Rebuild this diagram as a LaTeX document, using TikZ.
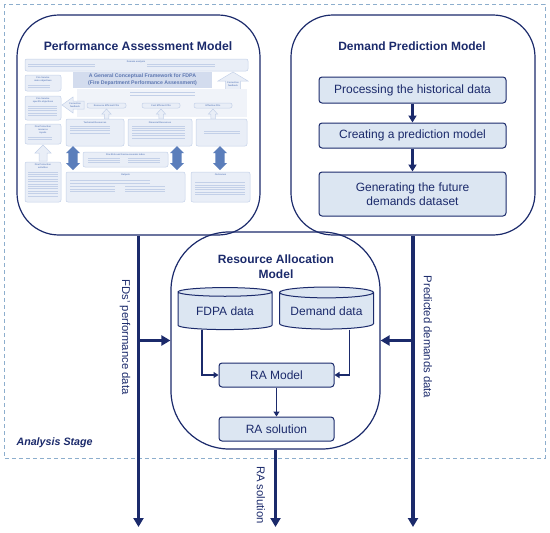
\documentclass[tikz,border=0pt]{standalone}
\usepackage{fontspec}
\setmainfont{Liberation Sans}
\usetikzlibrary{positioning, shapes.geometric, arrows.meta}

\definecolor{navy}{HTML}{1B2A6B}
\definecolor{boxfill}{HTML}{DCE6F2}
\definecolor{stageline}{HTML}{8DAECD}
\definecolor{paline}{HTML}{C3D0E8}
\definecolor{pafill}{HTML}{E9EEF7}
\definecolor{patext}{HTML}{6E8AC2}
\definecolor{pabanner}{HTML}{D3DCEE}
\definecolor{pablue}{HTML}{5B7EBB}

\tikzset{
	model/.style={draw=navy, line width=1.2pt, rounded corners=42pt, inner sep=0pt},
	modeltitle/.style={text=navy, align=center},
	stepbox/.style={draw=navy, fill=boxfill, line width=1pt, rounded corners=3pt,
		text=navy, align=center, inner sep=0pt, font=\fontsize{12}{14.5}\selectfont},
	datastore/.style={cylinder, shape border rotate=90, aspect=0.15, draw=navy, line width=1pt,
		fill=boxfill, text=navy, inner sep=0pt, font=\fontsize{12}{14.5}\selectfont},
	flow/.style={navy, line width=3.5pt, -{Triangle[length=9pt,width=10pt]}},
	stepflow/.style={navy, line width=2.5pt, -{Triangle[length=7pt,width=8pt]}},
	link/.style={navy, line width=1.5pt, -{Triangle[length=5pt,width=6pt]}},
	sidelabel/.style={text=navy, font=\fontsize{11.3}{13}\selectfont},
	pabox/.style={draw=paline, fill=pafill, rounded corners=2pt, line width=0.5pt},
	patxt/.style={text=patext, align=center, inner sep=0pt, font=\fontsize{2.3}{2.8}\selectfont\bfseries},
	pics/hollowarrow/.style args={#1/#2}{code={
		\draw[paline, fill=pafill, line width=0.5pt] ({-#1/4},{#2/2}) -- ({-#1/4},0) -- ({-#1/2},0)
			-- (0,{-#2/2}) -- ({#1/2},0) -- ({#1/4},0) -- ({#1/4},{#2/2}) -- cycle;}},
	pics/bluearrow/.style args={#1/#2}{code={
		\fill[pablue] (0,{-#2/2}) -- ({#1/2},{-#2/2+#1/2}) -- ({#1/3},{-#2/2+#1/2}) -- ({#1/3},{#2/2-#1/2})
			-- ({#1/2},{#2/2-#1/2}) -- (0,{#2/2}) -- ({-#1/2},{#2/2-#1/2}) -- ({-#1/3},{#2/2-#1/2})
			-- ({-#1/3},{-#2/2+#1/2}) -- ({-#1/2},{-#2/2+#1/2}) -- cycle;}}
}

% faint lines standing for the unreadable small print
\newcommand{\palines}[4]{%
	\foreach \k in {1,...,#4}
		\draw[paline, line width=0.6pt] (#1,{#3+2.4*\k}) -- (#2,{#3+2.4*\k});}

\begin{document}
\begin{tikzpicture}[x=1pt, y=-1pt]
	\useasboundingbox (0,0) rectangle (550,533);

	% analysis stage frame
	\draw[stageline, line width=1pt, dash pattern=on 4pt off 3pt] (4,4) rectangle (545,458);
	\node[text=navy, anchor=west, font=\fontsize{10.7}{12}\selectfont\bfseries\itshape] (stage) at (13,443) {Analysis Stage};

	% the three models
	\node[model, minimum width=243pt, minimum height=220pt] (pam) at (138.5,125) {};
	\node[model, minimum width=244pt, minimum height=220pt] (dpm) at (413,125) {};
	\node[model, rounded corners=58pt, minimum width=209pt, minimum height=217pt] (ram) at (275.5,340.5) {};

	\node[modeltitle, font=\fontsize{12.2}{15}\selectfont\bfseries] (pamtitle) at (138,46) {Performance Assessment Model};
	\node[modeltitle, font=\fontsize{12}{14}\selectfont\bfseries] (dpmtitle) at (412,46) {Demand Prediction Model};
	\node[modeltitle, font=\fontsize{12}{15}\selectfont\bfseries] (ramtitle) at (276,267) {Resource Allocation\\Model};

	% framework thumbnail inside the assessment model
	\draw[pabox] (25,59) rectangle (248,71);
	\node[patxt] (pa1) at (136,61.5) {Domain analysis};
	\palines{28}{95}{61.5}{2}
	\palines{147}{215}{61.5}{2}

	\draw[pabox] (25,75) rectangle (61,91);
	\node[patxt] (pa2) at (43,79.5) {Fire Service\\main objectives};
	\palines{28}{50}{82.5}{2}
	\draw[pabox] (25,96) rectangle (61,120);
	\node[patxt] (pa3) at (43,100.5) {Fire Service\\specific objectives};
	\palines{28}{57}{103.5}{5}
	\draw[pabox] (25,124) rectangle (61,144);
	\node[patxt] (pa4) at (43,130) {Fire Protection\\resource\\inputs};
	\palines{28}{52}{134.5}{2}
	\pic at (43,153) {hollowarrow=16/16};
	\draw[pabox] (25,162) rectangle (61,202);
	\node[patxt] (pa5) at (43,166.5) {Fire Protection\\activities};
	\palines{28}{58}{169.5}{11}

	\fill[pabanner] (73,72) rectangle (212,88);
	\node[text=patext!80!navy, align=center, font=\fontsize{5.2}{6.8}\selectfont\bfseries] (pabanner) at (142.5,80)
		{A General Conceptual Framework for FDPA\\(Fire Department Performance Assessment)};
	\pic at (233,81) {hollowarrow=30/18};
	\node[patxt] (pa6) at (233,84) {Correction\\feedback};

	\fill[pafill!70!white] (77,89) rectangle (247,117);
	\palines{130}{195}{90}{2}
	\draw[pabox] (87,103) rectangle (126,108);
	\node[patxt] (pa7) at (106.5,105.5) {Resource Efficient FDs};
	\draw[pabox] (142,103) rectangle (180,108);
	\node[patxt] (pa8) at (161,105.5) {Cost Efficient FDs};
	\draw[pabox] (194,103) rectangle (232,108);
	\node[patxt] (pa9) at (213,105.5) {Effective FDs};
	\pic[rotate=90] at (73,105) {hollowarrow=16/22};
	\node[patxt] (pa10) at (75,105) {Correction\\feedback};
	\foreach \ax in {106.5,161,213}
		\pic at (\ax,114) {hollowarrow=9/10};

	\draw[pabox] (66,119) rectangle (124,146);
	\node[patxt] (pa11) at (95,123) {Technical Resources};
	\palines{70}{110}{123.5}{4}
	\draw[pabox] (128,119) rectangle (192,146);
	\node[patxt] (pa12) at (160,123) {Financial Resources};
	\palines{132}{185}{123.5}{6}
	\draw[pabox] (196,119) rectangle (247,146);
	\palines{204}{240}{128.5}{2}

	\foreach \ax in {73,177,220}
		\pic at (\ax,158) {bluearrow=14/24};
	\draw[pabox] (83,152) rectangle (168,167);
	\node[patxt] (pa13) at (125.5,155) {Fire Risk and Socioeconomic index};
	\palines{88}{120}{155.5}{3}
	\palines{128}{160}{155.5}{3}

	\draw[pabox] (66,172) rectangle (185,202);
	\node[patxt] (pa14) at (125.5,175) {Outputs};
	\palines{70}{150}{178}{2}
	\palines{70}{115}{184}{3}
	\palines{125}{165}{184}{3}
	\draw[pabox] (191,172) rectangle (250,202);
	\node[patxt] (pa15) at (220.5,175) {Outcomes};
	\palines{195}{245}{180}{6}

	% demand prediction steps
	\node[stepbox, minimum width=187pt, minimum height=26pt] (proc) at (412.5,90) {Processing the historical data};
	\node[stepbox, minimum width=187pt, minimum height=25pt] (pred) at (412.5,135.5) {Creating a prediction model};
	\node[stepbox, minimum width=187pt, minimum height=44pt] (gen) at (412.5,194) {Generating the future\\demands dataset};
	\draw[stepflow] (proc) -- (pred);
	\draw[stepflow] (pred) -- (gen);

	% resource allocation
	\node[datastore, minimum width=94pt, minimum height=42pt] (fdpa) at (225,311) {FDPA data};
	\node[datastore, minimum width=94pt, minimum height=42pt] (dem) at (326.5,311) {Demand data};
	\node[stepbox, minimum width=115pt, minimum height=24pt] (ramod) at (276.5,375) {RA Model};
	\node[stepbox, minimum width=115pt, minimum height=24pt] (rasol) at (276.5,429) {RA solution};
	\draw[link] ([xshift=-23pt]fdpa.south) |- (ramod.west);
	\draw[link] ([xshift=23pt]dem.south) |- (ramod.east);
	\draw[link] (ramod) -- (rasol);

	% data flows between the models
	\coordinate (flowend) at (0,527);
	\draw[flow] (pam.south) -- (pam.south |- flowend);
	\draw[flow] (dpm.south) -- (dpm.south |- flowend);
	\draw[flow] (ram.south) -- (ram.south |- flowend);
	\draw[flow] (pam.south |- ram.west) -- (ram.west);
	\draw[flow] (dpm.south |- ram.east) -- (ram.east);

	\node[sidelabel, rotate=-90] (fdslabel) at (125,337) {FDs' performance data};
	\node[sidelabel, rotate=-90] (demlabel) at (428,337) {Predicted demands data};
	\node[sidelabel, rotate=-90] (sollabel) at (261,495) {RA solution};
\end{tikzpicture}
\end{document}
